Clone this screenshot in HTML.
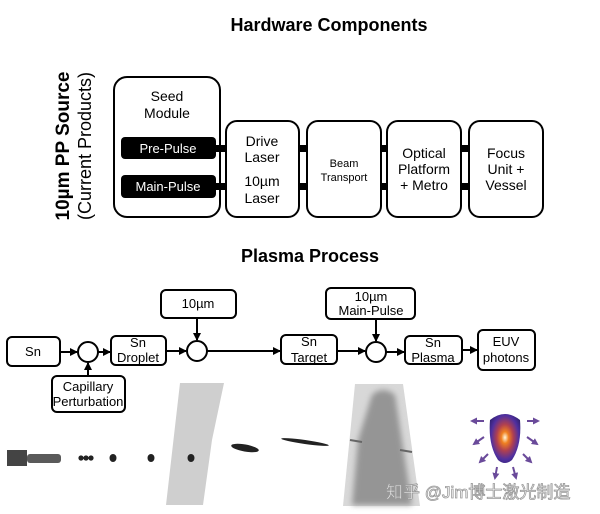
<!DOCTYPE html>
<html><head><meta charset="utf-8"><style>
html,body{margin:0;padding:0;background:#fff;width:600px;height:514px;overflow:hidden}
svg{display:block;font-family:"Liberation Sans",Arial,sans-serif}
</style></head><body>
<svg width="600" height="514" viewBox="0 0 600 514" xmlns="http://www.w3.org/2000/svg">
<defs>
<marker id="ar" markerWidth="8" markerHeight="8" refX="7" refY="4" orient="auto" markerUnits="userSpaceOnUse"><path d="M0,0 L8,4 L0,8 z" fill="#000"/></marker>
<marker id="pa" markerWidth="7" markerHeight="7" refX="5" refY="3.5" orient="auto" markerUnits="userSpaceOnUse"><path d="M0,0 L7,3.5 L0,7 z" fill="#6a4a9a"/></marker>
<radialGradient id="pl" cx="0.5" cy="0.48" r="0.6">
<stop offset="0" stop-color="#fff8e0"/><stop offset="0.2" stop-color="#f08020"/><stop offset="0.45" stop-color="#b04050"/><stop offset="0.75" stop-color="#5030a0"/><stop offset="1" stop-color="#302070"/></radialGradient>
<filter id="bl"><feGaussianBlur stdDeviation="3"/></filter>
</defs>
<text x="329" y="31" font-size="18" font-weight="bold" text-anchor="middle">Hardware Components</text>
<text transform="translate(69,146) rotate(-90)" font-size="19" font-weight="bold" text-anchor="middle">10µm PP Source</text>
<text transform="translate(91,146) rotate(-90)" font-size="18" text-anchor="middle">(Current Products)</text>
<g fill="none" stroke="#000" stroke-width="2">
<rect x="114" y="77" width="106" height="140" rx="13"/>
<rect x="226" y="121" width="73" height="96" rx="11"/>
<rect x="307" y="121" width="74" height="96" rx="11"/>
<rect x="387" y="121" width="74" height="96" rx="11"/>
<rect x="469" y="121" width="74" height="96" rx="11"/>
</g>
<g fill="#000">
<rect x="121" y="137" width="95" height="22" rx="4"/>
<rect x="121" y="175" width="95" height="23" rx="4"/>
<rect x="216" y="145" width="11" height="7"/><rect x="216" y="183" width="11" height="7"/>
<rect x="298" y="145" width="10" height="7"/><rect x="298" y="183" width="10" height="7"/>
<rect x="380" y="145" width="8" height="7"/><rect x="380" y="183" width="8" height="7"/>
<rect x="460" y="145" width="10" height="7"/><rect x="460" y="183" width="10" height="7"/>
</g>
<g font-size="14" text-anchor="middle">
<text x="167" y="101">Seed</text><text x="167" y="118">Module</text>
<text x="168" y="153" fill="#fff" font-size="13">Pre-Pulse</text>
<text x="168" y="191" fill="#fff" font-size="13">Main-Pulse</text>
<text x="262" y="146">Drive</text><text x="262" y="162">Laser</text>
<text x="262" y="186">10µm</text><text x="262" y="203">Laser</text>
<text x="344" y="167" font-size="11">Beam</text><text x="344" y="181" font-size="11">Transport</text>
<text x="424" y="158">Optical</text><text x="424" y="174">Platform</text><text x="424" y="190">+ Metro</text>
<text x="506" y="158">Focus</text><text x="506" y="174">Unit +</text><text x="506" y="190">Vessel</text>
</g>
<text x="310" y="262" font-size="18" font-weight="bold" text-anchor="middle">Plasma Process</text>
<g fill="#fff" stroke="#000" stroke-width="2">
<rect x="7" y="337" width="53" height="29" rx="5"/>
<rect x="111" y="336" width="55" height="29" rx="5"/>
<rect x="161" y="290" width="75" height="28" rx="5"/>
<rect x="281" y="335" width="56" height="29" rx="5"/>
<rect x="326" y="288" width="89" height="31" rx="5"/>
<rect x="405" y="336" width="57" height="28" rx="5"/>
<rect x="478" y="330" width="57" height="40" rx="5"/>
<rect x="52" y="376" width="73" height="36" rx="5"/>
<circle cx="88" cy="352" r="10"/><circle cx="197" cy="351" r="10"/><circle cx="376" cy="352" r="10"/>
</g>
<g stroke="#000" stroke-width="2" marker-end="url(#ar)">
<line x1="60" y1="352" x2="77" y2="352"/>
<line x1="98" y1="352" x2="110" y2="352"/>
<line x1="88" y1="376" x2="88" y2="363"/>
<line x1="166" y1="351" x2="186" y2="351"/>
<line x1="197" y1="318" x2="197" y2="340"/>
<line x1="207" y1="351" x2="280" y2="351"/>
<line x1="337" y1="351" x2="365" y2="351"/>
<line x1="376" y1="319" x2="376" y2="341"/>
<line x1="386" y1="352" x2="404" y2="352"/>
<line x1="462" y1="350" x2="477" y2="350"/>
</g>
<g font-size="13" text-anchor="middle">
<text x="33" y="356">Sn</text>
<text x="138" y="347">Sn</text><text x="138" y="362">Droplet</text>
<text x="198" y="308">10µm</text>
<text x="309" y="346">Sn</text><text x="309" y="362">Target</text>
<text x="371" y="301">10µm</text><text x="371" y="315">Main-Pulse</text>
<text x="433" y="347">Sn</text><text x="433" y="362">Plasma</text>
<text x="506" y="346">EUV</text><text x="506" y="362">photons</text>
<text x="88" y="391">Capillary</text><text x="88" y="406">Perturbation</text>
</g>
<polygon points="180,383 224,383 212,440 203,505 166,505" fill="#cfcfcf"/>
<rect x="7" y="450" width="20" height="16" fill="#444"/>
<rect x="27" y="454" width="34" height="9" rx="3" fill="#5a5a5a"/>
<g fill="#222"><circle cx="81" cy="458" r="2.6"/><circle cx="86" cy="458" r="2.6"/><circle cx="91" cy="458" r="2.6"/>
<ellipse cx="113" cy="458" rx="3.5" ry="4"/><ellipse cx="151" cy="458" rx="3.5" ry="4"/><ellipse cx="191" cy="458" rx="3.5" ry="4"/>
<ellipse cx="245" cy="448" rx="14" ry="3.5" transform="rotate(10 245 448)"/>
<ellipse cx="305" cy="442" rx="24" ry="2" transform="rotate(8 305 442)"/></g>
<polygon points="355,384 403,384 420,506 343,506" fill="#d8d8d8"/>
<path d="M372,395 Q383,385 395,395 L402,440 L412,505 L352,505 L358,440 Z" fill="#959595" filter="url(#bl)"/>
<line x1="350" y1="440" x2="362" y2="442" stroke="#666" stroke-width="2"/>
<line x1="400" y1="450" x2="412" y2="452" stroke="#666" stroke-width="2"/>
<path d="M490,420 Q505,408 520,420 Q522,445 512,460 Q505,466 498,460 Q488,445 490,420 Z" fill="url(#pl)"/>
<g stroke="#6a4a9a" stroke-width="2" marker-end="url(#pa)">
<line x1="484" y1="421" x2="472" y2="421"/><line x1="527" y1="421" x2="538" y2="421"/>
<line x1="484" y1="437" x2="474" y2="444"/><line x1="527" y1="437" x2="537" y2="444"/>
<line x1="488" y1="454" x2="480" y2="462"/><line x1="523" y1="454" x2="531" y2="462"/>
<line x1="497" y1="467" x2="495" y2="478"/><line x1="513" y1="467" x2="516" y2="478"/>
</g>
<text x="386" y="498" font-size="17" fill="#fff" stroke="#999" stroke-width="0.8" font-family="'Liberation Sans','Noto Sans CJK SC',sans-serif">知乎 @Jim博士激光制造</text>
</svg>
</body></html>
